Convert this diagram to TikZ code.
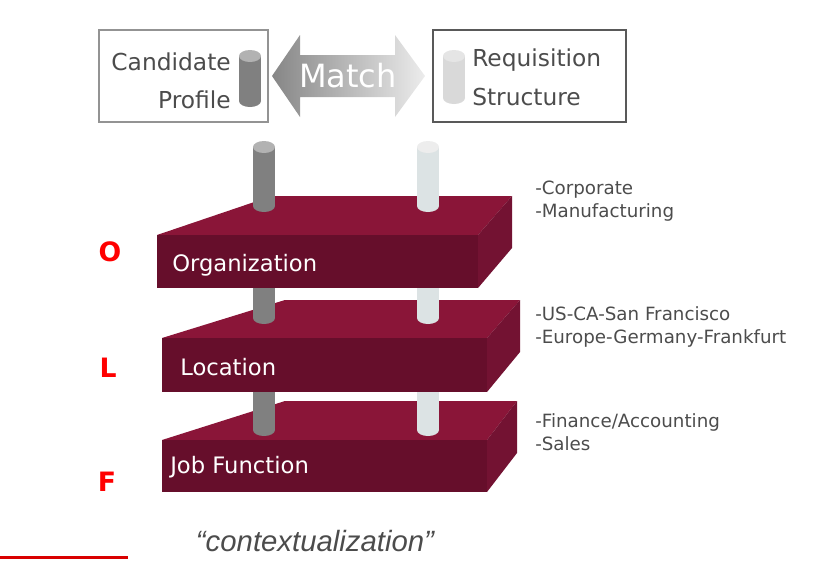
\documentclass[tikz,border=0pt]{standalone}
\usepackage{fontspec}
\setmainfont{DejaVu Sans}
\newfontfamily\arialfont{Liberation Sans}
\definecolor{slabtop}{HTML}{8A1538}
\definecolor{slabfront}{HTML}{660E2B}
\definecolor{slabside}{HTML}{731232}
\definecolor{darkpil}{HTML}{808080}
\definecolor{lightpil}{HTML}{DCE3E4}
\begin{document}
\begin{tikzpicture}[x=0.75pt,y=-0.75pt]
\tikzstyle{box} = [draw=gray, line width=2pt]
\tikzstyle{txt} = [text=black!70, inner sep=0pt, anchor=west, font=\fontsize{17.5}{20}\selectfont]
\tikzstyle{lab} = [text=white, font=\fontsize{17}{19}\selectfont, anchor=west, inner sep=0pt]
\tikzstyle{letter} = [text=red, font=\fontsize{20}{22}\selectfont\bfseries, inner sep=0pt]
\tikzstyle{note} = [text=black!70, font=\fontsize{13.7}{17}\selectfont, anchor=west, inner sep=0pt, align=left]
\useasboundingbox (0,0) rectangle (827,561);
% slab: front left/right/top/bottom, back y, back left, back right
\newcommand\slab[7]{%
  \fill[slabtop] (#1,#3) -- (#6,#5) -- (#7,#5) -- (#2,#3) -- cycle;
  \fill[slabside] (#2,#3) -- (#7,#5) -- (#7,#5+52) -- (#2,#4) -- cycle;
  \fill[slabfront] (#1,#3) rectangle (#2,#4);}
% pillar: x, top, bottom, colour, cap colour
\newcommand\pillar[5]{%
  \fill[#4] (#1-11,#2) rectangle (#1+11,#3);
  \fill[#4] (#1,#3) ellipse (11 and 6);
  \fill[#5] (#1,#2) ellipse (11 and 6);}
% top boxes
\draw[box, draw=gray!85] (99,30) rectangle (268,122);
\draw[box, draw=black!65] (433,30) rectangle (626,122);
\node[txt, anchor=east] (cand) at (231,62) {Candidate};
\node[txt, anchor=east] (prof) at (231,100) {Profile};
\node[txt] (req) at (472,60) {Requisition};
\node[txt] (struc) at (472,97) {Structure};
\pillar{250}{56}{101}{darkpil}{gray!60}
\pillar{454}{56}{98}{black!15}{black!10}
% match arrow
\shade[left color=gray!95, right color=gray!15]
  (272,76) -- (300,35) -- (300,55) -- (395,55) -- (395,35) -- (425,76)
  -- (395,117) -- (395,97) -- (300,97) -- (300,117) -- cycle;
\node[text=white, font=\fontsize{24}{26}\selectfont, inner sep=0pt] (match) at (348,76) {Match};
% slabs and pillars, bottom first
\slab{162}{487}{440}{492}{401}{285}{517}
\pillar{264}{392}{430}{darkpil}{darkpil}
\pillar{428}{392}{430}{lightpil}{lightpil}
\slab{162}{487}{338}{392}{300}{285}{520}
\pillar{264}{288}{318}{darkpil}{darkpil}
\pillar{428}{288}{318}{lightpil}{lightpil}
\slab{157}{478}{235}{288}{196}{272}{512}
\pillar{264}{147}{206}{darkpil}{gray!60}
\pillar{428}{147}{206}{lightpil}{black!7}
\node[lab] (org) at (172,265) {Organization};
\node[lab] (loc) at (180,367) {Location};
\node[lab] (job) at (170,467) {Job Function};
\node[letter] (o) at (110,252) {O};
\node[letter] (l) at (108,368) {L};
\node[letter] (f) at (107,482) {F};
\node[note] (n1) at (535,201) {-Corporate\\-Manufacturing};
\node[note] (n2) at (535,327) {-US-CA-San Francisco\\-Europe-Germany-Frankfurt};
\node[note] (n3) at (535,432) {-Finance/Accounting\\-Sales};
\node[text=black!70, font=\arialfont\fontsize{22}{26}\selectfont\itshape, inner sep=0pt] (ctx) at (315,541) {“contextualization”};
\fill[red!85!black] (0,556) rectangle (128,559);
\end{tikzpicture}
\end{document}
